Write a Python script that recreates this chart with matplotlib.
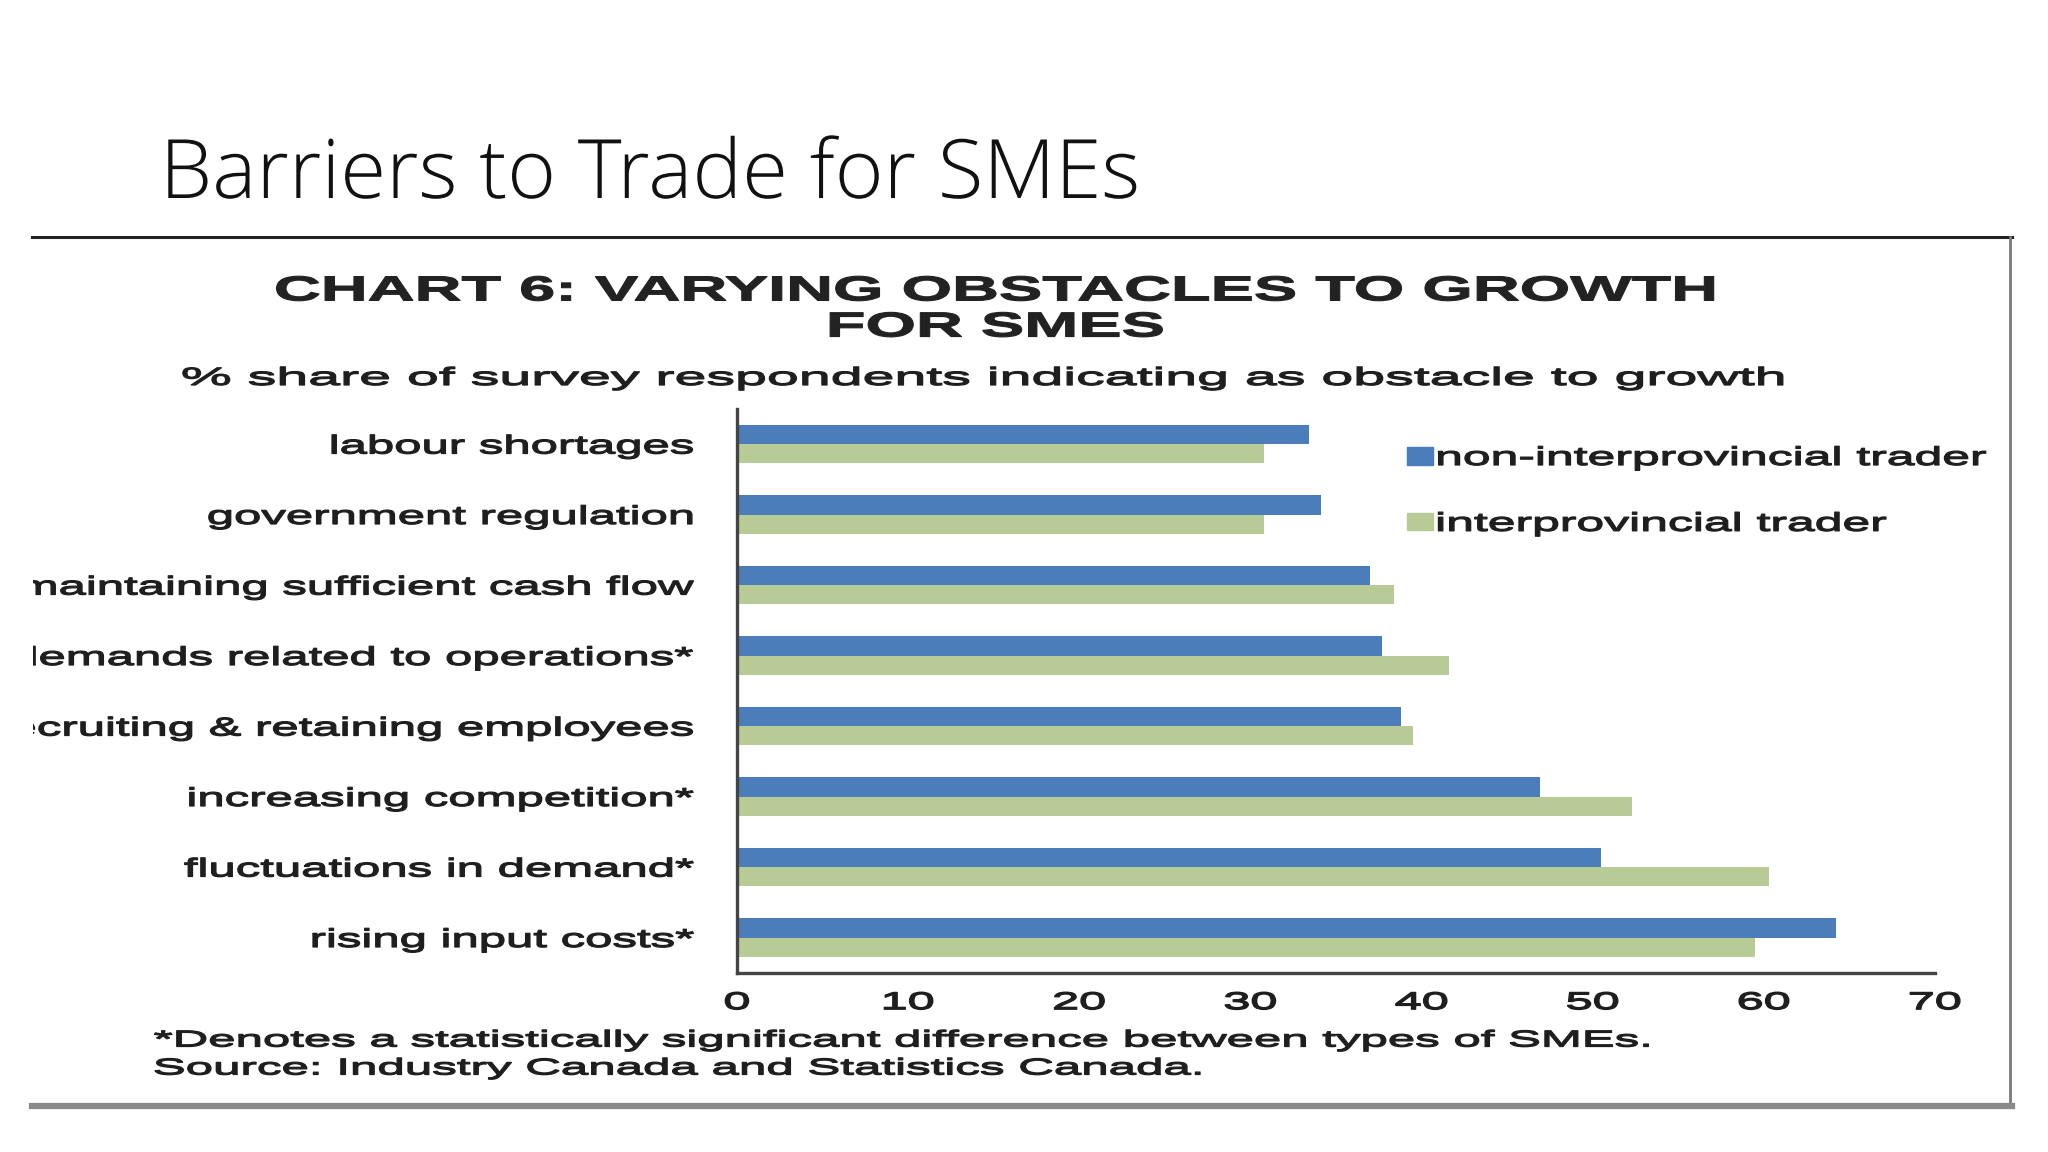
import matplotlib
matplotlib.use("Agg")
import matplotlib.pyplot as plt
from matplotlib.patheffects import AbstractPathEffect
from matplotlib.transforms import Affine2D, Bbox, TransformedBbox
from matplotlib.lines import Line2D
from matplotlib.patches import Patch

# ---------------- data ----------------
categories = [
    "labour shortages",
    "government regulation",
    "maintaining sufficient cash flow",
    "demands related to operations*",
    "recruiting & retaining employees",
    "increasing competition*",
    "fluctuations in demand*",
    "rising input costs*",
]
non_interprovincial = [33.4, 34.1, 37.0, 37.7, 38.8, 46.9, 50.5, 64.2]
interprovincial = [30.8, 30.8, 38.4, 41.6, 39.5, 52.3, 60.3, 59.5]
series_labels = ["non-interprovincial trader", "interprovincial trader"]
x_ticks = [0, 10, 20, 30, 40, 50, 60, 70]

slide_title = "Barriers to Trade for SMEs"
chart_title = "CHART 6: VARYING OBSTACLES TO GROWTH\nFOR SMES"
chart_subtitle = "% share of survey respondents indicating as obstacle to growth"
footnote_1 = "*Denotes a statistically significant difference between types of SMEs."
footnote_2 = "Source: Industry Canada and Statistics Canada."

BLUE = "#4A7DBA"
GREEN = "#B8CB96"
TXT = "#1e1e1e"

W, H = 2048, 1152


class StretchX(AbstractPathEffect):
    """Horizontally stretch rendered text glyphs (the source image is stretched)."""

    def __init__(self, sx=None, target=None, anchor="left", stroke=0.0):
        super().__init__()
        self.sx = sx
        self.target = target
        self.anchor = anchor
        self.stroke = stroke

    def draw_path(self, renderer, gc, tpath, affine, rgbFace=None):
        ext = tpath.get_extents(affine)
        if self.target is not None and ext.width > 0:
            sx = self.target / ext.width
        else:
            sx = self.sx
        if self.anchor == "left":
            a = ext.x0
        elif self.anchor == "right":
            a = ext.x1
        else:
            a = 0.5 * (ext.x0 + ext.x1)
        t = affine + Affine2D().translate(-a, 0).scale(sx, 1.0).translate(a, 0)
        gc0 = renderer.new_gc()
        gc0.copy_properties(gc)
        if self.stroke > 0:
            gc0.set_linewidth(self.stroke)
            if rgbFace is not None:
                gc0.set_foreground(rgbFace)
        renderer.draw_path(gc0, tpath, t, rgbFace)
        gc0.restore()


def fx(px):
    return px / W


def fy(py):
    return 1 - py / H


fig = plt.figure(figsize=(W / 100, H / 100), dpi=100)
fig.patch.set_facecolor("white")

# slide title
fig.text(fx(160), fy(198), slide_title, ha="left", va="baseline",
         family="Open Sans", weight="light", fontsize=59, color="#111111",
         path_effects=[StretchX(target=968, anchor="left")])

# frame of the pasted chart image
fig.add_artist(Line2D([fx(32), fx(2012)], [fy(237), fy(237)], transform=fig.transFigure,
                      color="#222222", lw=2.2))
fig.add_artist(Line2D([fx(2010), fx(2010)], [fy(237), fy(1106)], transform=fig.transFigure,
                      color="#7a7a7a", lw=2.0))
fig.add_artist(Line2D([fx(32), fx(2012)], [fy(1106), fy(1106)], transform=fig.transFigure,
                      color="#8a8a8a", lw=4.5))

# chart title and subtitle
fig.text(fx(996), fy(309), chart_title, ha="center", va="center", multialignment="center",
         family="Liberation Sans", weight="bold", fontsize=25, color="#222222",
         linespacing=1.12, path_effects=[StretchX(sx=1.87, anchor="center", stroke=0.8)])
fig.text(fx(983), fy(378), chart_subtitle, ha="center", va="center",
         family="Liberation Sans", fontsize=18, color=TXT,
         path_effects=[StretchX(target=1600, anchor="center", stroke=0.9)])

# axes
top, bottom = 408.75, 972.75
left, right = 737, 1935
ax = fig.add_axes([fx(left), fy(bottom), fx(right) - fx(left), (bottom - top) / H])
ax.set_facecolor("none")

pos = list(range(len(categories)))
h = 0.275
ax.barh([p - h / 2 for p in pos], non_interprovincial, height=h, color=BLUE,
        label=series_labels[0])
ax.barh([p + h / 2 for p in pos], interprovincial, height=h, color=GREEN,
        label=series_labels[1])

ax.set_xlim(0, 70)
ax.set_ylim(len(categories) - 0.5, -0.5)
for s in ["top", "right"]:
    ax.spines[s].set_visible(False)
for s in ["left", "bottom"]:
    ax.spines[s].set_color("#444444")
    ax.spines[s].set_linewidth(2.4)

ax.set_xticks(x_ticks)
ax.set_xticklabels([str(t) for t in x_ticks])
ax.set_yticks(pos)
ax.set_yticklabels(categories)
ax.tick_params(axis="x", length=0, pad=14)
ax.tick_params(axis="y", length=0, pad=31)

clip = TransformedBbox(Bbox.from_extents(fx(33), 0, 1, 1), fig.transFigure)
for lab in ax.get_xticklabels():
    lab.set_family("Liberation Sans")
    lab.set_fontsize(17.5)
    lab.set_color(TXT)
    lab.set_path_effects([StretchX(sx=2.0, anchor="center", stroke=1.0)])
for lab in ax.get_yticklabels():
    lab.set_family("Liberation Sans")
    lab.set_fontsize(18.6)
    lab.set_color(TXT)
    lab.set_clip_on(True)
    lab.set_clip_box(clip)
    lab.set_path_effects([StretchX(sx=1.9, anchor="right", stroke=0.9)])

# legend
handles = [Patch(color=BLUE), Patch(color=GREEN)]
leg = fig.legend(handles, series_labels, loc="upper left",
                 bbox_to_anchor=(fx(1407), fy(446)), frameon=False,
                 prop={"family": "Liberation Sans", "size": 18.6},
                 handlelength=1.0, handleheight=0.65, handletextpad=0.15,
                 labelspacing=1.62, borderaxespad=0, borderpad=0)
for t in leg.get_texts():
    t.set_color(TXT)
    t.set_path_effects([StretchX(sx=1.93, anchor="left", stroke=0.9)])

# footnotes
fig.text(fx(154), fy(1040), footnote_1, ha="left", va="center",
         family="Liberation Sans", fontsize=16.5, color=TXT,
         path_effects=[StretchX(target=1494, anchor="left", stroke=0.9)])
fig.text(fx(154), fy(1068), footnote_2, ha="left", va="center",
         family="Liberation Sans", fontsize=16.5, color=TXT,
         path_effects=[StretchX(target=1045, anchor="left", stroke=0.9)])

fig.savefig("out.png", dpi=100, facecolor="white")
